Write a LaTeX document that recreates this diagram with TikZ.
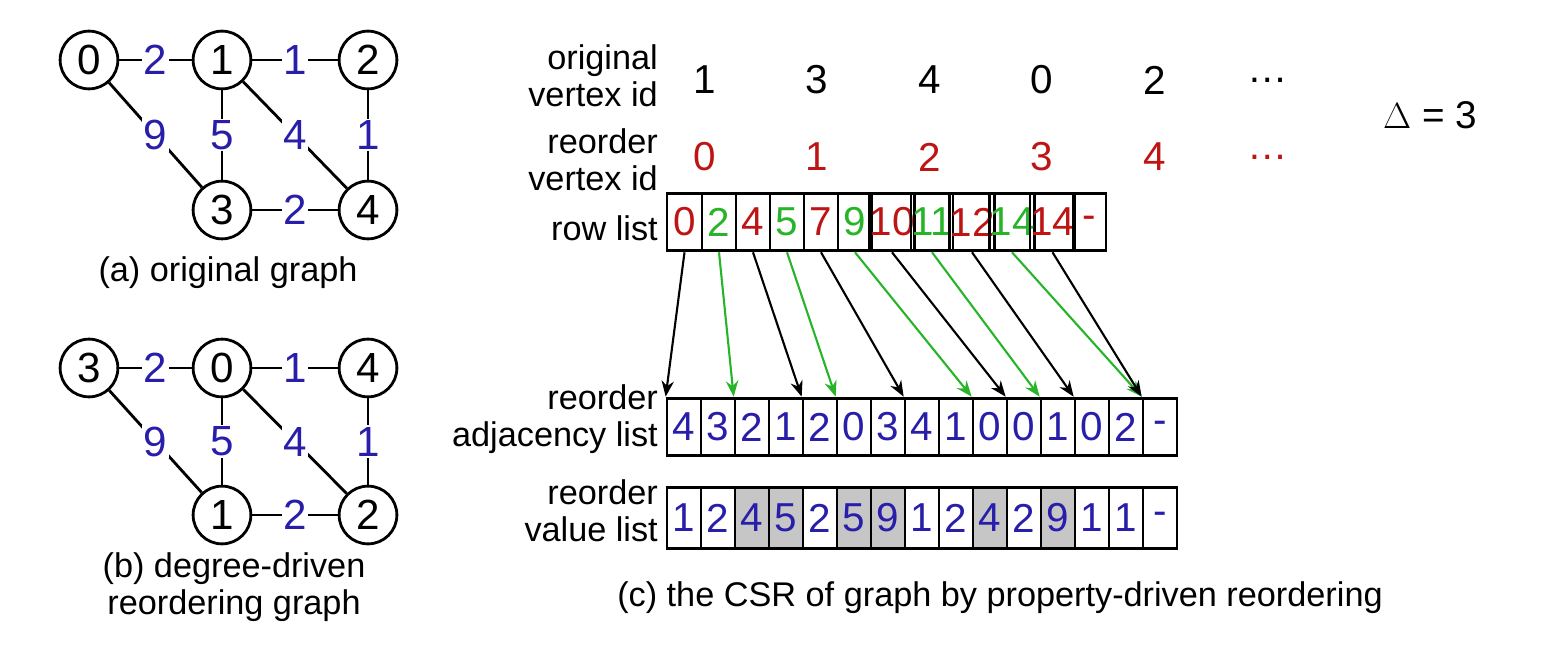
\documentclass[tikz,border=0pt]{standalone}
\usepackage{fontspec}
\setmainfont{Liberation Sans}
\usetikzlibrary{arrows.meta}
\definecolor{wblue}{RGB}{40,30,170}
\definecolor{wred}{RGB}{190,20,20}
\definecolor{wgreen}{RGB}{40,180,40}
\tikzset{
  vtx/.style={circle,draw,line width=1.6pt,minimum size=58pt*0.567,inner sep=0pt,font=\fontsize{24}{26}\selectfont},
  wt/.style={fill=white,inner sep=1pt,text=wblue,font=\fontsize{24}{26}\selectfont},
  edge/.style={line width=1.6pt},
  lbl/.style={align=right,anchor=east,font=\fontsize{19.5}{21}\selectfont},
  capt/.style={align=center,font=\fontsize{19.5}{21}\selectfont},
  cell/.style={draw,line width=1.6pt,inner sep=0pt,font=\fontsize{23}{25}\selectfont},
  ptr/.style={line width=1.2pt,-{Stealth[length=9pt,width=7pt]}}
}
\begin{document}
\begin{tikzpicture}[x=0.02cm,y=-0.02cm]
\useasboundingbox (0,0) rectangle (1567,648);
% (a) original graph
\node[vtx] (a0) at (89,60) {0};
\node[vtx] (a1) at (222,60) {1};
\node[vtx] (a2) at (368,60) {2};
\node[vtx] (a3) at (222,210) {3};
\node[vtx] (a4) at (368,210) {4};
\draw[edge] (a0) -- node[wt] {2} (a1);
\draw[edge] (a1) -- node[wt] {1} (a2);
\draw[edge] (a0) -- node[wt] {9} (a3);
\draw[edge] (a1) -- node[wt] {5} (a3);
\draw[edge] (a1) -- node[wt] {4} (a4);
\draw[edge] (a2) -- node[wt] {1} (a4);
\draw[edge] (a3) -- node[wt] {2} (a4);
\node[capt] (capa) at (228,273) {(a) original graph};
% (b) reordered graph
\node[vtx] (b3) at (89,368) {3};
\node[vtx] (b0) at (222,368) {0};
\node[vtx] (b4) at (368,368) {4};
\node[vtx] (b1) at (222,515) {1};
\node[vtx] (b2) at (368,515) {2};
\draw[edge] (b3) -- node[wt] {2} (b0);
\draw[edge] (b0) -- node[wt] {1} (b4);
\draw[edge] (b3) -- node[wt] {9} (b1);
\draw[edge] (b0) -- node[wt] {5} (b1);
\draw[edge] (b0) -- node[wt] {4} (b2);
\draw[edge] (b4) -- node[wt] {1} (b2);
\draw[edge] (b1) -- node[wt] {2} (b2);
\node[capt] (capb) at (234,587) {(b) degree-driven\\reordering graph};
% (c) CSR
\node[lbl] (l1) at (664,76) {original\\vertex id};
\node[lbl] (l2) at (664,160) {reorder\\vertex id};
\node[lbl] (l3) at (664,228) {row list};
\node[lbl] (l4) at (664,419) {reorder\\adjacency list};
\node[lbl] (l5) at (664,511) {reorder\\value list};
\foreach \x/\o/\r [count=\i] in {705/1/0,817/3/1,930/4/2,1042/0/3,1155/2/4,1268/\dots/\dots}{
  \node[font=\fontsize{23}{25}\selectfont] (o\i) at (\x,80) {\o};
  \node[font=\fontsize{23}{25}\selectfont,text=wred] (n\i) at (\x,157) {\r};
}
\node[font=\fontsize{22}{24}\selectfont] (delta) at (1430,115) {$\Delta$ = 3};
% row list
\foreach \l/\rr/\v/\c [count=\i from 0] in {667/702/0/wred,702/736/2/wgreen,736/770/4/wred,770/804/5/wgreen,804/838/7/wred,838/872/9/wgreen,872/912/10/wred,912/952/11/wgreen,952/992/12/wred,992/1032/14/wgreen,1032/1073/14/wred,1073/1106/-/wred}
  \node[cell,text=\c,minimum width={(\rr-\l)*0.567pt},minimum height=58*0.567pt] (r\i) at ({(\l+\rr)/2},222) {\v};
% adjacency and value lists
\foreach \a [count=\i from 0] in {4,3,2,1,2,0,3,4,1,0,0,1,0,2,-}{
  \node[cell,text=wblue,minimum width=34*0.567pt,minimum height=58*0.567pt] (c\i) at (684+34*\i,427) {\a};
}
\foreach \w/\g [count=\i from 0] in {1/white,2/white,4/gray!45,5/gray!45,2/white,5/gray!45,9/gray!45,1/white,2/white,4/gray!45,2/white,9/gray!45,1/white,1/white,-/white}{
  \node[cell,fill=\g,text=wblue,minimum width=34*0.567pt,minimum height=61*0.567pt] (v\i) at (684+34*\i,518) {\w};
}
% pointers
\foreach \i/\k/\c in {0/0/black,1/2/wgreen,2/4/black,3/5/wgreen,4/7/black,5/9/wgreen,6/10/black,7/11/wgreen,8/12/black,9/14/wgreen,10/14/black}
  \draw[ptr,\c] (r\i.south) -- (c\k.north west);
\node[capt] (capc) at (1000,598) {(c) the CSR of graph by property-driven reordering};
\end{tikzpicture}
\end{document}
